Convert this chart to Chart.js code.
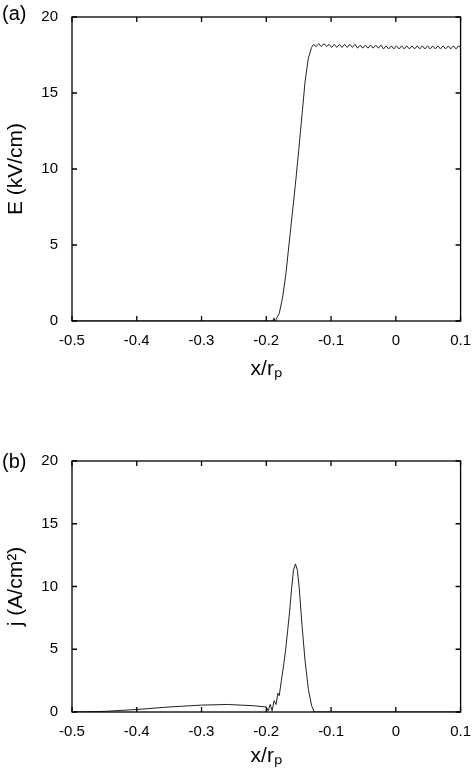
<!DOCTYPE html>
<html><head><meta charset="utf-8">
<script src="https://cdn.jsdelivr.net/npm/chart.js@4"></script>
<style>
body{margin:0;background:#fff;width:474px;height:773px;position:relative;overflow:hidden;font-family:"Liberation Sans",Arial,sans-serif}
.lbl{position:absolute;left:2px;font-size:20px;color:#000}
canvas{position:absolute;left:0}
</style></head><body>
<canvas id="c1" style="top:0" width="474" height="386"></canvas>
<canvas id="c2" style="top:386px" width="474" height="387"></canvas>
<div class="lbl" style="top:2px">(a)</div>
<div class="lbl" style="top:450px">(b)</div>
<script>
const xTicks=[-0.5,-0.4,-0.3,-0.2,-0.1,0,0.1];
const yTicks=[0,5,10,15,20];
const eX=[-0.5,-0.3,-0.2,-0.19,-0.188,-0.186,-0.185,-0.18,-0.175,-0.17,-0.165,-0.16,-0.155,-0.15,-0.145,-0.14,-0.135,-0.13,-0.127,
 -0.123,-0.119,-0.115,-0.111,-0.107,-0.103,-0.099,-0.095,-0.091,-0.087,-0.083,-0.079,-0.075,-0.071,-0.067,-0.063,-0.059,-0.055,-0.051,-0.047,-0.043,-0.039,-0.035,-0.031,-0.027,-0.023,-0.019,-0.015,-0.011,-0.007,-0.003,0.001,0.005,0.009,0.013,0.017,0.021,0.025,0.029,0.033,0.037,0.041,0.045,0.049,0.053,0.057,0.061,0.065,0.069,0.073,0.077,0.081,0.085,0.089,0.093,0.097,0.1];
const eY=[0,0,0,0,0.2,-0.1,0.1,0.5,1.5,3,5,7,9,11.2,13.5,15.8,17.3,18.0,18.2,
 18.05,18.25,18.05,18.25,18.05,18.2,18.0,18.2,18.0,18.2,18.0,18.2,18.0,18.2,18.0,18.2,17.95,18.15,17.95,18.15,17.95,18.15,17.95,18.15,17.95,18.15,17.9,18.1,17.9,18.1,17.9,18.1,17.9,18.1,17.9,18.1,17.9,18.1,17.9,18.1,17.9,18.1,17.9,18.1,17.9,18.1,17.9,18.1,17.9,18.1,17.9,18.1,17.9,18.1,17.9,18.1,18.0];
const jX=[-0.5,-0.45,-0.4,-0.35,-0.3,-0.26,-0.22,-0.2,-0.197,-0.194,-0.191,-0.188,-0.185,-0.182,-0.18,-0.177,-0.173,-0.17,-0.167,-0.164,-0.161,-0.158,-0.155,-0.152,-0.149,-0.145,-0.14,-0.135,-0.13,-0.126,-0.1,0.1];
const jY=[0,0.05,0.2,0.4,0.55,0.6,0.5,0.4,0.1,0.6,0.1,0.9,0.6,1.5,1.3,2.4,3.8,5,6.5,8,9.8,11.3,11.8,11.3,9.8,7,4,1.8,0.5,0,0,0];
const F='"Liberation Sans",Arial,sans-serif';
const framePlugin={id:'frame',afterDraw(c){const a=c.chartArea,ctx=c.ctx,sx=c.scales.x,sy=c.scales.y;
 ctx.save();ctx.strokeStyle='#000';ctx.lineWidth=1.3;ctx.strokeRect(a.left,a.top,a.right-a.left,a.bottom-a.top);
 ctx.beginPath();xTicks.forEach(v=>{const p=sx.getPixelForValue(v);ctx.moveTo(p,a.bottom);ctx.lineTo(p,a.bottom-5);ctx.moveTo(p,a.top);ctx.lineTo(p,a.top+5);});
 yTicks.forEach(v=>{const p=sy.getPixelForValue(v);ctx.moveTo(a.left,p);ctx.lineTo(a.left+5,p);ctx.moveTo(a.right,p);ctx.lineTo(a.right-5,p);});
 ctx.stroke();ctx.restore();}};
function mk(id,xs,ys,ytitle,top,xh){
 new Chart(document.getElementById(id),{type:'line',
  data:{datasets:[{data:xs.map((x,i)=>({x:x,y:ys[i]})),borderColor:'#222',borderWidth:1,pointRadius:0,tension:0}]},
  options:{responsive:false,animation:false,plugins:{legend:{display:false},tooltip:{enabled:false}},
   layout:{padding:{top:top,right:12,left:0,bottom:0}},
   scales:{
    x:{type:'linear',min:-0.5,max:0.1,afterBuildTicks:s=>{s.ticks=xTicks.map(v=>({value:v}))},
     afterFit:s=>{s.height=xh},grid:{display:false},border:{display:false},
     ticks:{color:'#000',font:{family:F,size:15},padding:3,maxRotation:0,callback:v=>v===0?'0':v.toFixed(1)},
     title:{display:true,text:'x/rₚ',color:'#000',font:{family:F,size:21},padding:{top:6}}},
    y:{min:0,max:20,afterBuildTicks:s=>{s.ticks=yTicks.map(v=>({value:v}))},
     afterFit:s=>{s.width=72},grid:{display:false},border:{display:false},
     ticks:{color:'#000',font:{family:F,size:15},padding:6},
     title:{display:true,text:ytitle,color:'#000',font:{family:F,size:21},padding:{bottom:2}}}}},
  plugins:[framePlugin]});
}
mk('c1',eX,eY,'E (kV/cm)',17,65);
mk('c2',jX,jY,'j (A/cm²)',75,61);
</script></body></html>
